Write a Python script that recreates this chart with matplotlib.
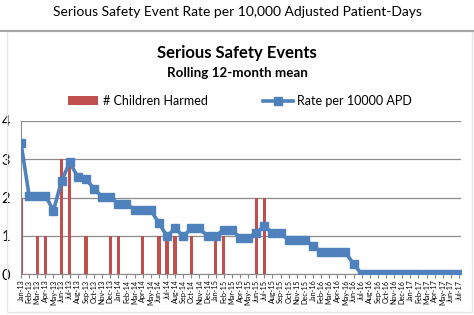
import numpy as np
import matplotlib.pyplot as plt
from matplotlib.patches import Rectangle
from matplotlib.lines import Line2D

plt.rcParams['font.family'] = ['Lato', 'DejaVu Sans']

# month labels Jan-13 .. Jul-17
month_names = ['Jan', 'Feb', 'Mar', 'Apr', 'May', 'Jun', 'Jul', 'Aug', 'Sep', 'Oct', 'Nov', 'Dec']
months = []
for yr in range(13, 18):
    for m in month_names:
        months.append(f"{m}-{yr}")
months = months[:55]

# children harmed (bars)
harmed = [2, 0, 1, 1, 0, 3, 3, 0, 1, 0, 0, 1,
          1, 0, 0, 1, 0, 1, 1, 1, 0, 1, 0, 0,
          1, 1, 0, 0, 0, 2, 2, 0, 0, 0, 0, 0,
          0, 0, 0, 0, 0, 0, 0, 0, 0, 0, 0, 0,
          0, 0, 0, 0, 0, 0, 0]

# rolling 12-month rate per 10000 APD
rate = [3.42, 2.05, 2.04, 2.05, 1.66, 2.43, 2.92, 2.54, 2.48, 2.23, 2.02, 2.01,
        1.84, 1.84, 1.67, 1.67, 1.67, 1.33, 0.99, 1.19, 0.99, 1.19, 1.19, 0.99,
        0.99, 1.16, 1.15, 0.95, 0.94, 1.08, 1.25, 1.08, 1.06, 0.89, 0.89, 0.89,
        0.74, 0.57, 0.57, 0.57, 0.57, 0.26, 0.0, 0.0, 0.0, 0.0, 0.0, 0.0,
        0.0, 0.0, 0.0, 0.0, 0.0, 0.0, 0.0]

red = '#C0504D'
blue = '#4F81BD'

fig = plt.figure(figsize=(4.74, 3.15), dpi=100)
W, H = 474, 315

# faint frame of the chart area, darker top edge
fig.patches.append(Rectangle((7 / W, 3 / H), (472 - 7) / W, (H - 34) / H,
                             transform=fig.transFigure, fill=False,
                             edgecolor='#E6E6E6', linewidth=1.0))
fig.lines.append(Line2D([0, 1], [1 - 31 / H, 1 - 31 / H], transform=fig.transFigure,
                        color='#A6A6A6', linewidth=1.5))

fig.text(0.5, 1 - 12 / H, 'Serious Safety Event Rate per 10,000 Adjusted Patient-Days',
         ha='center', va='center', fontsize=10)
fig.text(0.5, 1 - 53 / H, 'Serious Safety Events', ha='center', va='center',
         fontsize=12, fontweight='bold')
fig.text(0.5, 1 - 73 / H, 'Rolling 12-month mean', ha='center', va='center',
         fontsize=9.6, fontweight='bold')

ax = fig.add_axes([21 / W, 41 / H, (461 - 21) / W, (274 - 121) / H])
x = np.arange(len(months))
bars = ax.bar(x, harmed, width=0.4, color=red, label='# Children Harmed', zorder=2)
line, = ax.plot(x, rate, color=blue, linewidth=2.6, marker='s', markersize=6,
                label='Rate per 10000 APD', zorder=3)

ax.set_xlim(0, 54.25)
ax.set_ylim(0, 4)
ax.set_yticks([0, 1, 2, 3, 4])
ax.tick_params(axis='y', length=0, labelsize=10.5, pad=8)
ax.set_xticks(x)
ax.set_xticklabels(months, rotation=90, fontsize=5.2)
ax.tick_params(axis='x', length=3, color='#868686', pad=1)
ax.grid(axis='y', color='#8C8C8C', linewidth=0.9, zorder=0)
for s in ['top', 'right']:
    ax.spines[s].set_visible(False)
ax.spines['left'].set_color('#8C8C8C')
ax.spines['bottom'].set_color('#8C8C8C')

fig.legend([bars, line], ['# Children Harmed', 'Rate per 10000 APD'],
           loc='center', bbox_to_anchor=(240 / W, 1 - 101 / H), ncol=2,
           frameon=False, fontsize=9, handlelength=2.4, columnspacing=4.4,
           handletextpad=0.35)

fig.savefig('out.png', dpi=100)
